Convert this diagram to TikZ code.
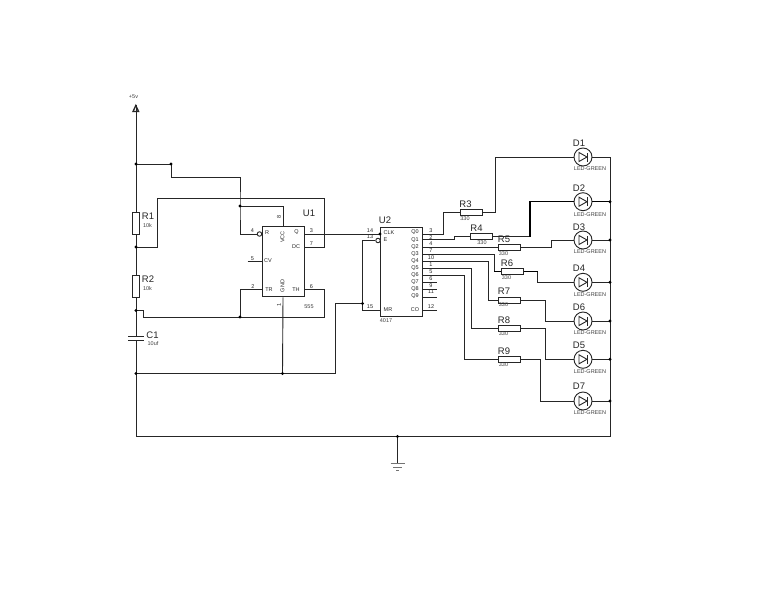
\documentclass[tikz,border=0pt]{standalone}
\usepackage{fontspec}
\setmainfont{Liberation Sans}
\tikzset{
  wire/.style={draw=black!85,line width=0.9pt,line join=miter},
  heavy/.style={draw=black,line width=1.35pt},
  dotj/.style={circle,fill=black,inner sep=0pt,minimum size=3.3pt},
  resv/.style={draw=black!85,fill=white,line width=0.9pt,minimum width=6.5pt,minimum height=22pt,inner sep=0pt},
  resh/.style={draw=black!85,fill=white,line width=0.9pt,minimum width=21.5pt,minimum height=6pt,inner sep=0pt},
  chip/.style={draw=black!85,fill=white,line width=1pt,inner sep=0pt},
  ledc/.style={circle,draw=black!85,fill=white,line width=0.9pt,minimum size=18pt,inner sep=0pt},
  refname/.style={font=\fontsize{9.5}{9.5}\selectfont,inner sep=0pt,text=black!85},
  val/.style={font=\fontsize{5.5}{5.5}\selectfont,inner sep=0pt,text=black!75},
  pinn/.style={font=\fontsize{5.5}{5.5}\selectfont,inner sep=0pt,text=black!85},
  inv/.style={circle,draw=black!85,fill=white,line width=0.9pt,minimum size=4.5pt,inner sep=0pt},
}
\newcommand{\ledglyph}[1]{%
  \draw[wire] ([xshift=-4pt,yshift=-4.5pt]#1.center) -- ([xshift=-4pt,yshift=4.5pt]#1.center) -- ([xshift=4pt]#1.center) -- cycle;
  \draw[wire,line width=1pt] ([xshift=4pt,yshift=-4.5pt]#1.center) -- ([xshift=4pt,yshift=4.5pt]#1.center);
}
\begin{document}
\begin{tikzpicture}[x=1pt,y=-1pt]
\useasboundingbox (0,0) rectangle (768,594);
\fill[white] (0,0) rectangle (768,594);
% named junctions
\coordinate (vcc) at (136,112);
\coordinate (j1) at (136,164);
\coordinate (j2) at (171,164);
\coordinate (j3) at (240,206);
\coordinate (j4) at (136,247);
\coordinate (j5) at (136,310.5);
\coordinate (j6) at (240,317);
\coordinate (j7) at (136,373.5);
\coordinate (j8) at (282.5,373.5);
\coordinate (j9) at (362.5,303.5);
\coordinate (j10) at (397.5,436.5);
\coordinate (gnd) at (397.5,463.3);
\coordinate (cl) at (136,436.5);
\coordinate (cr) at (610,436.5);
\coordinate (ct) at (610,157);
% chips
\node[chip,minimum width=42pt,minimum height=70.5pt] (u1) at (283,261.7) {};
\node[chip,minimum width=42.5pt,minimum height=89.5pt] (u2) at (401.3,272) {};
% passive parts
\node[resv] (r1) at (136,223) {};
\node[resv] (r2) at (136,286) {};
\node[resh,line width=1.1pt] (r3) at (471.5,212.7) {};
\node[resh] (r4) at (481.5,236.8) {};
\node[resh] (r5) at (509.5,247.7) {};
\node[resh] (r6) at (512.5,271.7) {};
\node[resh] (r7) at (509.5,300) {};
\node[resh] (r8) at (509.5,328) {};
\node[resh,line width=1.2pt] (r9) at (509.5,359.3) {};
\node[ledc] (d1) at (583,157) {};
\node[ledc] (d2) at (583,201.7) {};
\node[ledc] (d3) at (583,240) {};
\node[ledc] (d4) at (583,282.3) {};
\node[ledc] (d6) at (583,321) {};
\node[ledc] (d5) at (583,359.3) {};
\node[ledc] (d7) at (583,401) {};
\node[inv] (invr) at (259.5,234) {};
\node[inv] (inve) at (378,240.5) {};
% wires left
\draw[wire] (vcc) -- (r1.north);
\draw[wire] (r1.south) -- (r2.north);
\draw[wire] (r2.south) -- (136,336);
\draw[wire] (136,340.7) -- (cl) -- (cr) -- (ct);
\draw[wire] (j1) -- (j2) -- (171,177) -- (240,177) -- (j3) |- (invr.west);
\draw[wire] (j3) -| (u1.north);
\draw[wire] (j4) -| (157,198) -| (324,247) -- (304,247);
\draw[wire] (304,234) -- (380,234);
\draw[wire] (247.5,261) -- (262,261);
\draw[wire] (262,289.5) -| (j6);
\draw[wire] (j5) -- (143,310.5) |- (324,317) |- (304,289.5);
\draw[wire] (u1.south) -- (j8);
\draw[wire] (j7) -- (335.5,373.5) |- (j9);
\draw[wire] (inve.west) -| (j9) |- (380,310);
% plates
\draw[wire,line width=1pt] (128,336) -- (143.5,336);
\draw[wire,line width=1pt] (128,340.7) -- (143.5,340.7);
% supply
\draw[wire,line width=1.3pt] (135.8,105.5) -- (133,111.5) -- (138.6,111.5) -- cycle;
\draw[wire] (136,105) -- (vcc);
% ground
\draw[wire] (j10) -- (gnd);
\draw[wire,draw=black!55] (390.7,463.3) -- (405,463.3);
\draw[wire,draw=black!55] (393,467) -- (402,467);
\draw[wire,draw=black!55] (396,470.7) -- (399,470.7);
% U2 outputs
\draw[wire] (423,234) -- (443,234) |- (r3.west);
\draw[wire] (r3.east) -- (495,212.7) |- (d1.west);
\draw[wire] (423,239.5) -- (454,239.5) |- (r4.west);
\draw[wire] (r4.east) -- (530,236.8);
\draw[heavy] (530,236.8) |- (d2.west);
\draw[wire] (423,247.7) -- (r5.west);
\draw[wire] (r5.east) -- (551.7,247.7) |- (d3.west);
\draw[wire] (423,254.5) -- (494,254.5) |- (r6.west);
\draw[heavy] (494,271.7) -- (r6.west);
\draw[heavy] (r6.east) -- (537.7,271.7);
\draw[wire] (537.7,271.7) |- (d4.west);
\draw[wire] (423,261.5) -- (488,261.5) |- (r7.west);
\draw[wire] (r7.east) -- (545,300) |- (d6.west);
\draw[wire] (423,268.5) -- (471,268.5) |- (r8.west);
\draw[wire] (r8.east) -- (545,328) |- (d5.west);
\draw[wire] (423,275.5) -- (464,275.5) |- (r9.west);
\draw[wire] (r9.east) -- (540,359.3) |- (d7.west);
\draw[wire] (423,282.5) -- (436.5,282.5);
\draw[wire] (423,289.5) -- (436.5,289.5);
\draw[wire] (423,297) -- (436.5,297);
\draw[wire] (423,310) -- (436.5,310);
% LED to rail
\draw[wire] (d1.east) -- (ct);
\draw[heavy] (d2.east) -- (610,201.7);
\draw[wire] (d3.east) -- (610,240);
\draw[wire] (d4.east) -- (610,282.3);
\draw[wire] (d6.east) -- (610,321);
\draw[wire] (d5.east) -- (610,359.3);
\draw[wire] (d7.east) -- (610,401);
\foreach \d in {d1,d2,d3,d4,d6,d5,d7} {\ledglyph{\d}}
% dots
\foreach \p in {j1,j2,j3,j4,j5,j6,j7,j8,j9,j10} {\node[dotj] at (\p) {};}
\foreach \y in {201.7,240,282.3,321,359.3,401} {\node[dotj] at (610,\y) {};}
\node[dotj] at (380,234) {};
% labels
\node[val] (t5v) at (133.5,97) {+5v};
\node[refname] (lr1) at (148,216.5) {R1};
\node[val] (vr1) at (147.5,226) {10k};
\node[refname] (lr2) at (148,279) {R2};
\node[val] (vr2) at (147.5,288.5) {10k};
\node[refname] (lc1) at (152.5,335) {C1};
\node[val] (vc1) at (153,344) {10uf};
\node[refname] (lu1) at (309,213.5) {U1};
\node[refname] (lu2) at (385,220.5) {U2};
\node[val] (v555) at (309,306.5) {555};
\node[val] (v4017) at (386,321) {4017};
% U1 pins
\node[pinn] at (252.5,231) {4};
\node[pinn] at (252.5,258.5) {5};
\node[pinn] at (253,286.5) {2};
\node[pinn] at (311.5,230.5) {3};
\node[pinn] at (311.5,244) {7};
\node[pinn] at (311.5,286.5) {6};
\node[pinn,rotate=90] at (279,216.5) {8};
\node[pinn,rotate=90] at (279,305) {1};
\node[pinn] at (267,232.5) {R};
\node[pinn] at (268,261) {CV};
\node[pinn] at (269,289.5) {TR};
\node[pinn] at (296.5,232.5) {Q};
\node[pinn] at (296,246.5) {DC};
\node[pinn] at (296,289.5) {TH};
\node[pinn,rotate=90] at (282.5,237) {VCC};
\node[pinn,rotate=90] at (282.5,286) {GND};
% U2 pins
\foreach \t/\y in {14/231,13/237,15/307} {\node[pinn] at (370,\y) {\t};}
\node[pinn] at (389,232.5) {CLK};
\node[pinn] at (385.5,240) {E};
\node[pinn] at (388,310) {MR};
\foreach \t/\y in {Q0/232.5,Q1/240,Q2/247,Q3/254,Q4/261,Q5/268,Q6/275,Q7/282,Q8/289,Q9/296.5,CO/310} {\node[pinn] at (415,\y) {\t};}
\foreach \t/\y in {3/231,2/237.5,4/244,7/250.5,10/258,1/265,5/272,6/279,9/286,11/292,12/307} {\node[pinn] at (431,\y) {\t};}
% R and D labels
\foreach \t/\x/\y in {R3/465.5/204,R4/476.5/228,R5/504/239,R6/507/263,R7/504/291,R8/504/320,R9/504/351} {\node[refname] at (\x,\y) {\t};}
\foreach \x/\y in {465/218.5,482/243,503.5/254,506.5/278,503.5/305,503.5/334,503.5/365} {\node[val] at (\x,\y) {330};}
\foreach \t/\y in {D1/143,D2/188,D3/227,D4/268,D6/307,D5/345,D7/386.5} {\node[refname] at (579,\y) {\t};}
\foreach \y in {169,214.5,252,294.5,333,371.5,413} {\node[val] at (590,\y) {LED-GREEN};}
\end{tikzpicture}
\end{document}
